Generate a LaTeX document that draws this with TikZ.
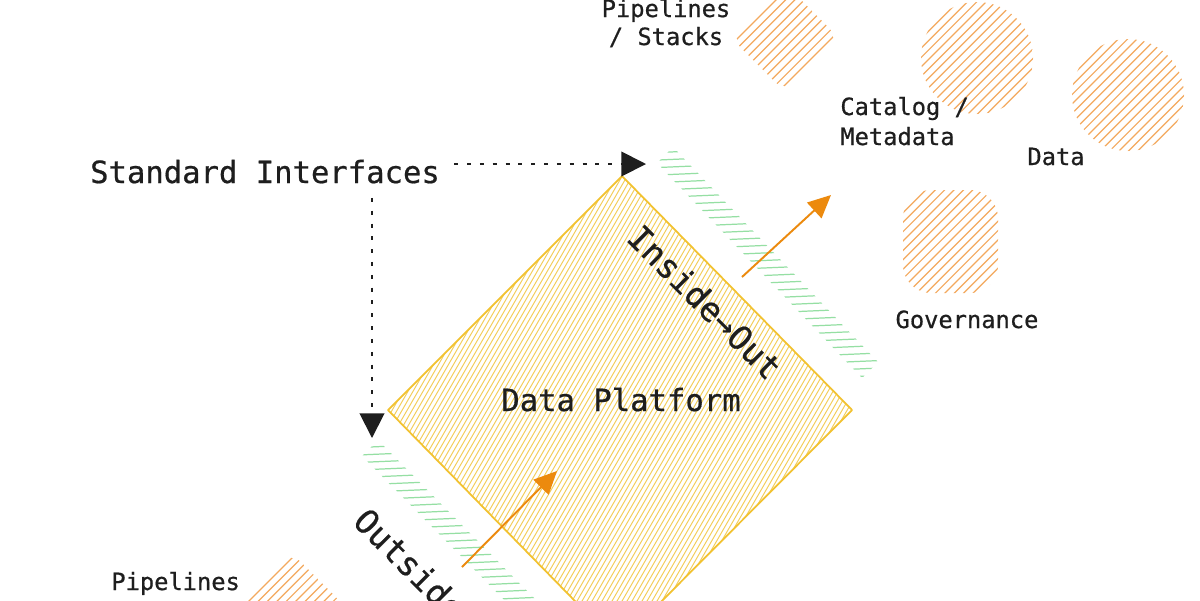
\documentclass[tikz,border=0pt]{standalone}
\usepackage{fontspec}
\setmonofont[FakeBold=0.6]{DejaVu Sans Mono}
\usetikzlibrary{arrows.meta}
\definecolor{ink}{HTML}{1E1E1E}
\definecolor{ylw}{HTML}{F2C230}
\definecolor{ylwh}{HTML}{F3CE5A}
\definecolor{grn}{HTML}{95DFA3}
\definecolor{org}{HTML}{F3A95E}
\definecolor{arr}{HTML}{EC8A0E}
\newcommand\ohatch[2]{\foreach \k in {-14,...,14}{\draw[ho] ({#1+\k*4.7-110},{#2+\k*4.7+110}) -- ({#1+\k*4.7+110},{#2+\k*4.7-110});}}
\begin{document}
\begin{tikzpicture}[x=0.02cm,y=-0.02cm,
  lbl/.style={font=\ttfamily\fontsize{17.4}{20}\selectfont, text=ink, inner sep=0pt},
  sml/.style={font=\ttfamily\fontsize{13.5}{16}\selectfont, text=ink, inner sep=0pt},
  rot/.style={font=\ttfamily\fontsize{19}{22}\selectfont, text=ink, inner sep=0pt, rotate=-45},
  dotarrow/.style={ink, line width=1.1pt, dash pattern=on 2.3pt off 5pt, -{Triangle[length=14pt,width=14pt]}},
  orarrow/.style={arr, line width=1.1pt, -{Triangle[length=13pt,width=12pt]}},
  hy/.style={ylwh, line width=0.55pt},
  hg/.style={grn, line width=0.7pt},
  ho/.style={org, line width=0.7pt},
]
\useasboundingbox (0,0) rectangle (1200,600);
\clip (0,0) rectangle (1200,600);
\fill[white] (0,0) rectangle (1200,600);

% orange hatched shapes
\begin{scope}
  \clip[rounded corners=8] (785,-16) -- (839,38) -- (785,92) -- (731,38) -- cycle;
  \ohatch{785}{38}
\end{scope}
\begin{scope}
  \clip (977,58) circle [radius=56];
  \ohatch{977}{58}
\end{scope}
\begin{scope}
  \clip (1128,95) circle [radius=56];
  \ohatch{1128}{95}
\end{scope}
\begin{scope}
  \clip[rounded corners=16] (903,190) rectangle (998,293);
  \ohatch{950}{241}
\end{scope}
\begin{scope}
  \clip[rounded corners=8] (291,552) -- (345,606) -- (291,660) -- (237,606) -- cycle;
  \ohatch{291}{606}
\end{scope}

% green strips
\begin{scope}
  \clip (673,147) -- (878,362) -- (862,378) -- (657,163) -- cycle;
  \foreach \i in {0,...,36}{\draw[hg] (600,{125+\i*7.5}) -- (950,{110+\i*7.5});}
\end{scope}
\begin{scope}
  \clip (378,440) -- (548,612) -- (532,628) -- (362,456) -- cycle;
  \foreach \i in {0,...,30}{\draw[hg] (300,{420+\i*7.5}) -- (650,{405+\i*7.5});}
\end{scope}

% data platform diamond
\coordinate (dtop) at (622,176);
\coordinate (dright) at (852,410);
\coordinate (dbot) at (618,645);
\coordinate (dleft) at (388,410);
\begin{scope}
  \clip (dtop) -- (dright) -- (dbot) -- (dleft) -- cycle;
  \foreach \i in {0,...,96}{\draw[hy] ({238+\i*5},660) -- ({538+\i*5},140);}
\end{scope}
\draw[ylw, line width=1pt, line join=round] (dtop) -- (dright) -- (dbot) -- (dleft) -- cycle;

% texts
\node[lbl, anchor=base] (si) at (265,183) {Standard Interfaces};
\node[lbl, anchor=base] (dpl) at (621,411) {Data Platform};
\node[rot] (io) at (705,302) {Inside→Out};
\node[rot] (os) at (410,564) {Outside};
\node[sml, anchor=base] (ps1) at (666,17) {Pipelines};
\node[sml, anchor=base] (ps2) at (666,45) {/ Stacks};
\node[sml, anchor=base west] (cm1) at (840,115) {Catalog /};
\node[sml, anchor=base west] (cm2) at (840,145) {Metadata};
\node[sml, anchor=base] (dt) at (1056,165) {Data};
\node[sml, anchor=base] (gv) at (967,328) {Governance};
\node[sml, anchor=base west] (pl) at (111,590) {Pipelines};

% dotted connectors
\coordinate (htip) at (646,164);
\coordinate (vtip) at (372,438);
\draw[dotarrow] ([xshift=8pt]si.east |- htip) -- (htip);
\draw[dotarrow] ([yshift=-8pt]si.south -| vtip) -- (vtip);

% orange arrows
\coordinate (o1s) at (742,277);
\coordinate (o1e) at (831,195);
\coordinate (o2s) at (462,567);
\coordinate (o2e) at (557,471);
\draw[orarrow] (o1s) -- (o1e);
\draw[orarrow] (o2s) -- (o2e);
\end{tikzpicture}
\end{document}
